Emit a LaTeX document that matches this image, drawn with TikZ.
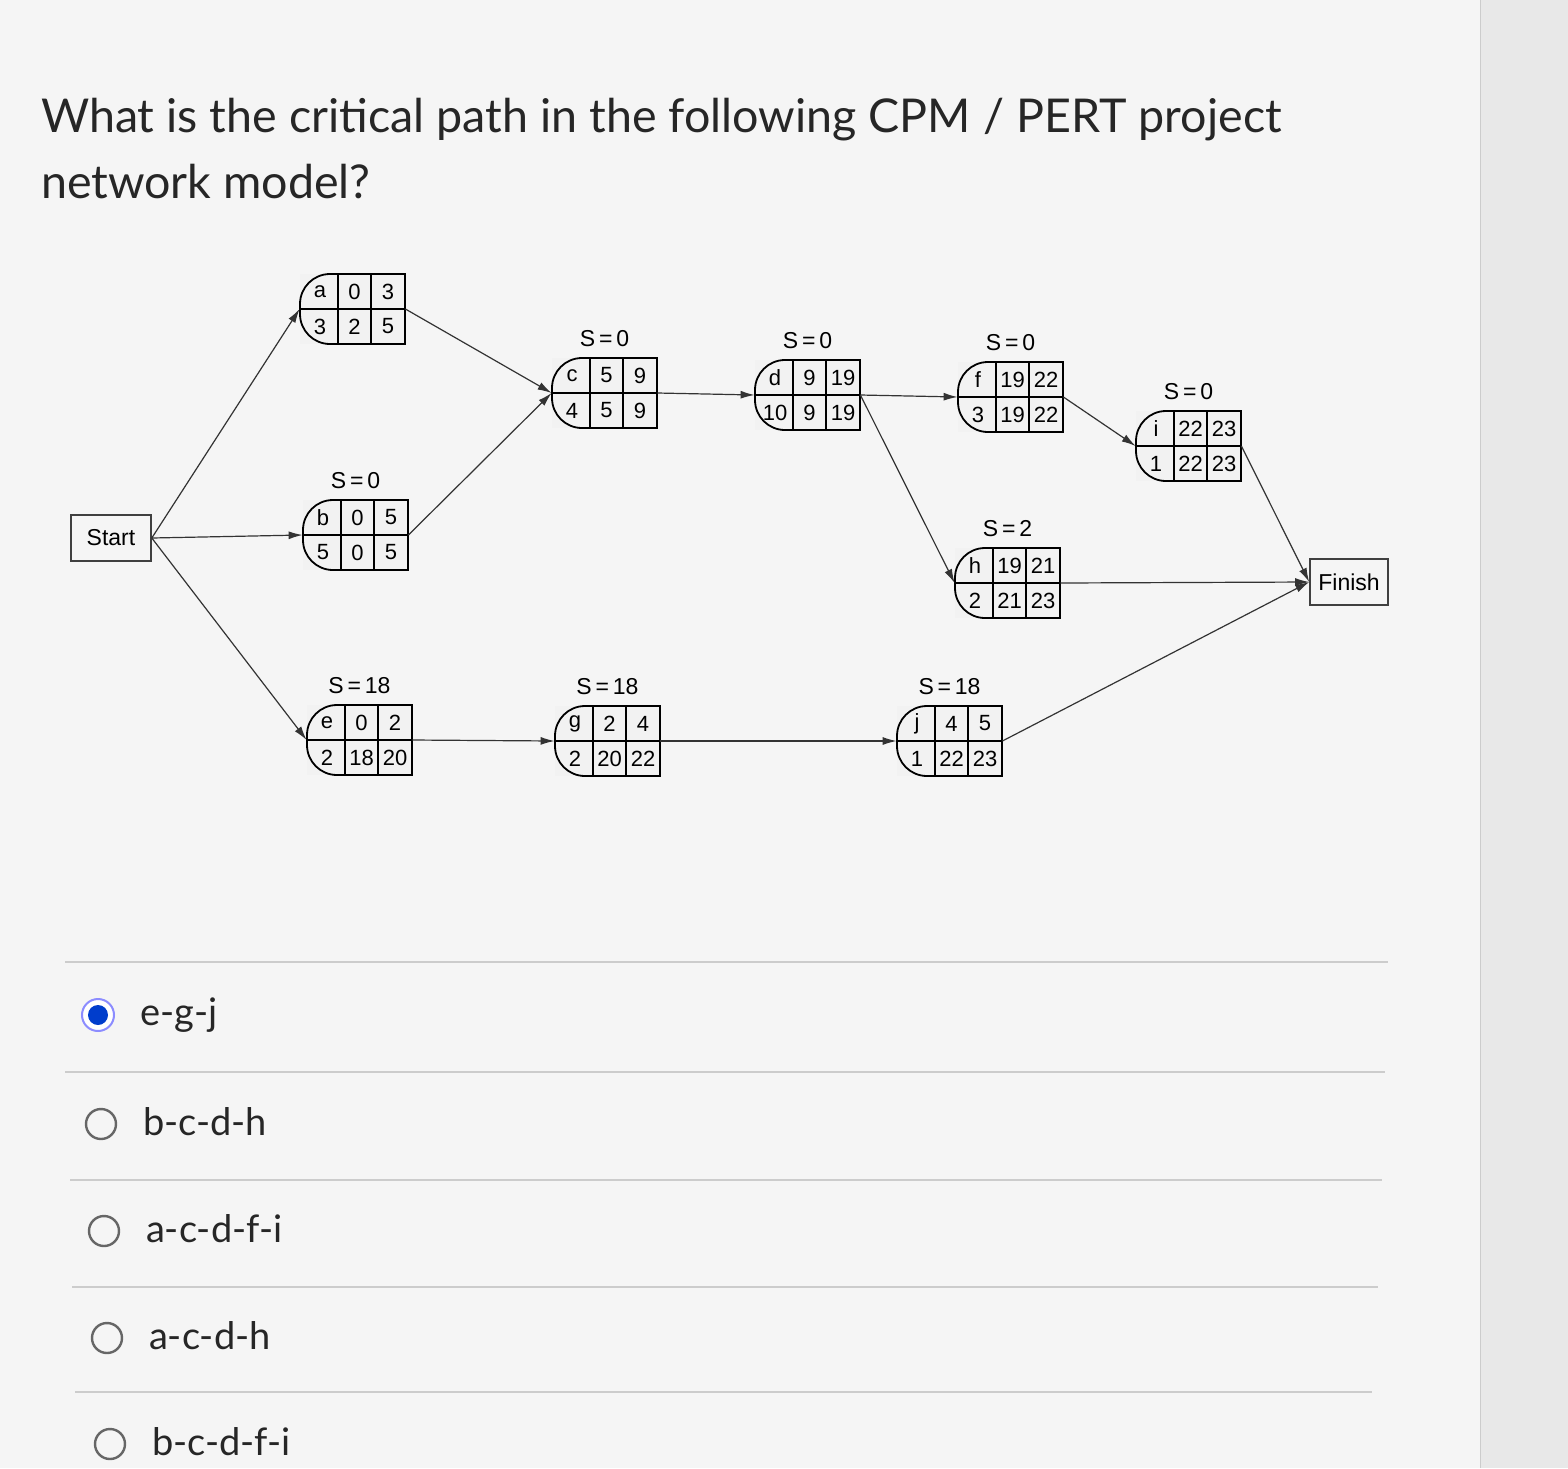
\documentclass[tikz,border=0pt]{standalone}
\usepackage{fontspec}
\setmainfont{Lato}
\newfontfamily\diag{Liberation Sans}
\usetikzlibrary{arrows.meta}
\tikzset{
 arr/.style={-{Latex[length=7pt,width=4pt]},line width=0.6pt,black!80},
 cell/.style={font=\diag\fontsize{11}{12}\selectfont},
 slab/.style={font=\diag\fontsize{11.5}{12}\selectfont},
 term/.style={draw=black!75,line width=0.8pt,fill=white!92!gray,font=\diag\fontsize{11.5}{12}\selectfont,minimum height=23pt},
 opt/.style={anchor=west,font=\fontsize{19}{22}\selectfont,text=black!85},
 radio/.style={draw=black!60,line width=1.2pt},
 sep/.style={draw=black!20,line width=0.6pt}
}
\newcommand\act[9]{%
 \begin{scope}[shift={(#2)}]
  \fill[white!90!gray] (0,0) rectangle (105,70);
  \draw[line width=0.9pt] (38,0) -- (105,0) -- (105,70) -- (38,70);
  \draw[line width=0.9pt,rounded corners=15pt] (38,70) -- (0,70) -- (0,0) -- (38,0);
  \draw[line width=0.9pt] (38,0)--(38,70) (71,0)--(71,70) (0,35)--(105,35);
  \node[cell] at (20,17.5) {#3};
  \node[cell] at (54.5,17.5) {#4};
  \node[cell] at (88,17.5) {#5};
  \node[cell] at (20,52.5) {#6};
  \node[cell] at (54.5,52.5) {#7};
  \node[cell] at (88,52.5) {#8};
  \node[inner sep=0,minimum width=52.5pt,minimum height=35pt] (#1) at (52.5,35) {};
  \node[slab] at (52.5,-19) {#9};
 \end{scope}}
\begin{document}
\begin{tikzpicture}[x=0.5pt,y=-0.5pt]
\useasboundingbox (0,0) rectangle (1568,1468);
\fill[gray!18] (0,0) rectangle (1568,1468);
\fill[gray!8] (0,0) rectangle (1480,1468);
\draw[gray!40] (1480,0) -- (1480,1468);
\node[anchor=base west,font=\fontsize{23.3}{28}\selectfont,text=black!85] (t1) at (34,132) {What is the critical path in the following CPM / PERT project};
\node[anchor=base west,font=\fontsize{23.3}{28}\selectfont,text=black!85] (t2) at (34,198) {network model?};

\act{a}{300,274}{a}{0}{3}{3}{2}{5}{}
\act{c}{552,358}{c}{5}{9}{4}{5}{9}{S\,=\,0}
\act{d}{755,360}{d}{9}{19}{10}{9}{19}{S\,=\,0}
\act{f}{958,362}{f}{19}{22}{3}{19}{22}{S\,=\,0}
\act{i}{1136,411}{i}{22}{23}{1}{22}{23}{S\,=\,0}
\act{b}{303,500}{b}{0}{5}{5}{0}{5}{S\,=\,0}
\act{h}{955,548}{h}{19}{21}{2}{21}{23}{S\,=\,2}
\act{e}{307,705}{e}{0}{2}{2}{18}{20}{S\,=\,18}
\act{g}{555,706}{g}{2}{4}{2}{20}{22}{S\,=\,18}
\act{j}{897,706}{j}{4}{5}{1}{22}{23}{S\,=\,18}

\node[term,minimum width=40pt] (start) at (111,538) {Start};
\node[term,minimum width=39pt] (finish) at (1349,582) {Finish};

\draw[arr] (start.east) -- (a.west);
\draw[arr] (start.east) -- (b.west);
\draw[arr] (start.east) -- (e.west);
\draw[arr] (a.east) -- (c.west);
\draw[arr] (b.east) -- (c.west);
\draw[arr] (c.east) -- (d.west);
\draw[arr] (d.east) -- (f.west);
\draw[arr] (d.east) -- (h.west);
\draw[arr] (f.east) -- (i.west);
\draw[arr] (i.east) -- (finish.west);
\draw[arr] (h.east) -- (finish.west);
\draw[arr] (e.east) -- (g.west);
\draw[arr] (g.east) -- (j.west);
\draw[arr] (j.east) -- (finish.west);

\draw[sep] (65,962) -- (1388,962);
\draw[sep] (65,1072) -- (1385,1072);
\draw[sep] (70,1180) -- (1382,1180);
\draw[sep] (72,1287) -- (1378,1287);
\draw[sep] (75,1392) -- (1372,1392);

\node[circle,draw=blue!45,line width=1pt,minimum size=16pt,inner sep=0,fill=white] (r1) at (98,1015) {};
\fill[blue!70!cyan!80!black] (r1) circle (10);
\node[opt] (o1) at (133,1015) {e-g-j};
\node[circle,radio,minimum size=15pt,inner sep=0] (r2) at (101,1124) {};
\node[opt] (o2) at (136,1122) {b-c-d-h};
\node[circle,radio,minimum size=15pt,inner sep=0] (r3) at (104,1231) {};
\node[opt] (o3) at (139,1229) {a-c-d-f-i};
\node[circle,radio,minimum size=15pt,inner sep=0] (r4) at (107,1338) {};
\node[opt] (o4) at (142,1336) {a-c-d-h};
\node[circle,radio,minimum size=15pt,inner sep=0] (r5) at (110,1444) {};
\node[opt] (o5) at (145,1442) {b-c-d-f-i};
\end{tikzpicture}
\end{document}
